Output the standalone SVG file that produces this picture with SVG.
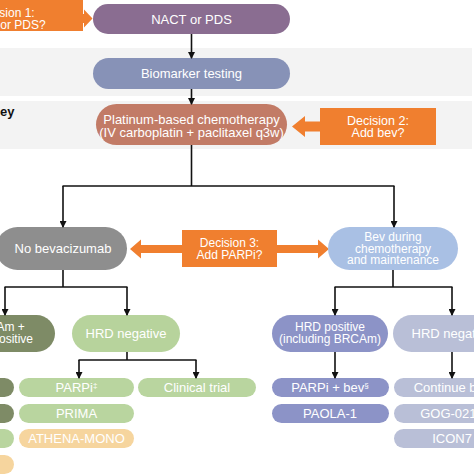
<svg xmlns="http://www.w3.org/2000/svg" width="474" height="474" viewBox="0 0 474 474">
<defs>
<style>
text{font-family:"Liberation Sans",Arial,sans-serif;fill:#fff;text-anchor:middle;font-size:13px}
.sm{font-size:12.5px}
.ml{font-size:12px}
.conn line{stroke:#111;stroke-width:1.6;fill:none}
.or{fill:#f07f2f}
.key{fill:#111;font-weight:bold;text-anchor:start;font-size:13px}
</style>
<marker id="ah" markerUnits="userSpaceOnUse" markerWidth="7" markerHeight="7" refX="6" refY="3.5" orient="auto">
<path d="M0,0 L7,3.5 L0,7 z" fill="#111"/>
</marker>
</defs>
<rect width="474" height="474" fill="#fff"/>
<rect x="0" y="48" width="472" height="48" fill="#f3f3f3"/>
<rect x="0" y="101" width="472" height="48" fill="#f3f3f3"/>
<text class="key" x="0" y="116">ey</text>

<g id="decision1">
<rect class="or" x="-12" y="0" width="95" height="31"/>
<polygon class="or" points="82,14 84,14 84,9.5 92.5,18.5 84,27.5 84,23 82,23"/>
<text class="ml" x="5" y="17">Decision 1:</text>
<text class="ml" x="5" y="28.5">NACT or PDS?</text>
</g>
<g id="nact">
<rect x="93" y="4" width="197" height="30" rx="15" fill="#8a6d91"/>
<text x="191.5" y="23.5">NACT or PDS</text>
</g>
<g id="biomarker">
<rect x="93" y="58" width="197" height="31" rx="15.5" fill="#8792b7"/>
<text x="191.5" y="78">Biomarker testing</text>
</g>
<g id="platinum">
<rect x="96" y="104" width="191" height="41" rx="20.5" fill="#c27b66"/>
<text x="191.5" y="123.5">Platinum-based chemotherapy</text>
<text x="191.5" y="136.5">(IV carboplatin + paclitaxel q3w)</text>
</g>
<g id="decision2">
<rect class="or" x="320" y="108" width="116" height="37"/>
<polygon class="or" points="321,121.5 305,121.5 305,116 292,126.5 305,137 305,131.5 321,131.5"/>
<text class="sm" x="378" y="124.5">Decision 2:</text>
<text class="sm" x="378" y="136.5">Add bev?</text>
</g>
<g id="nobev">
<rect x="-4" y="227" width="131" height="43" rx="21.5" fill="#8e8e8e"/>
<text x="63" y="253">No bevacizumab</text>
</g>
<g id="decision3">
<polygon class="or" points="183,245 141,245 141,239.5 130,249 141,258.5 141,253 183,253"/>
<polygon class="or" points="276,245 318,245 318,239.5 329,249 318,258.5 318,253 276,253"/>
<rect class="or" x="182" y="230" width="95" height="37"/>
<text class="ml" x="229.5" y="246.5">Decision 3:</text>
<text class="ml" x="229.5" y="258.5">Add PARPi?</text>
</g>
<g id="bev">
<rect x="328" y="227" width="130" height="43" rx="21.5" fill="#a9c0e4"/>
<text class="ml" x="393" y="241">Bev during</text>
<text class="ml" x="393" y="252.5">chemotherapy</text>
<text class="ml" x="393" y="264">and maintenance</text>
</g>
<g id="brca">
<rect x="-60" y="315" width="115" height="37" rx="18.5" fill="#7e8b66"/>
<text class="ml" x="-2" y="331">BRCAm +</text>
<text class="ml" x="-2" y="343">HRD positive</text>
</g>
<g id="hrdneg-left">
<rect x="72" y="315" width="108" height="37" rx="18.5" fill="#b7d39c"/>
<text x="126" y="338">HRD negative</text>
</g>
<g id="hrdpos">
<rect x="272" y="315" width="116" height="37" rx="18.5" fill="#8c93c7"/>
<text class="ml" x="330" y="331">HRD positive</text>
<text class="ml" x="330" y="343">(including BRCAm)</text>
</g>
<g id="hrdneg-right">
<rect x="393" y="315" width="132" height="37" rx="18.5" fill="#b9bfd7"/>
<text x="452" y="338">HRD negative</text>
</g>

<g id="brca-rows">
<rect x="-80" y="378" width="94" height="19" rx="9.5" fill="#7e8b66"/>
<rect x="-80" y="404" width="94" height="19" rx="9.5" fill="#7e8b66"/>
<rect x="-80" y="429" width="94" height="19" rx="9.5" fill="#b9d59f"/>
<rect x="-80" y="455" width="94" height="19" rx="9.5" fill="#f6d59e"/>
</g>
<g id="parpi">
<rect x="19" y="378" width="115" height="19" rx="9.5" fill="#b9d59f"/>
<text x="76.5" y="392">PARPi<tspan font-size="8" dy="-4">‡</tspan></text>
</g>
<g id="clinical">
<rect x="138" y="378" width="118" height="19" rx="9.5" fill="#b9d59f"/>
<text x="197" y="392">Clinical trial</text>
</g>
<g id="prima">
<rect x="19" y="404" width="115" height="19" rx="9.5" fill="#b9d59f"/>
<text x="76.5" y="418">PRIMA</text>
</g>
<g id="athena">
<rect x="19" y="429" width="115" height="19" rx="9.5" fill="#f6d59e"/>
<text x="76.5" y="443">ATHENA-MONO</text>
</g>
<g id="parpibev">
<rect x="272" y="378" width="117" height="19" rx="9.5" fill="#8c93c7"/>
<text x="330" y="392">PARPi  + bev<tspan font-size="8" dy="-4">§</tspan></text>
</g>
<g id="paola">
<rect x="272" y="404" width="117" height="19" rx="9.5" fill="#8c93c7"/>
<text x="330" y="418">PAOLA-1</text>
</g>
<g id="continue">
<rect x="394" y="378" width="130" height="19" rx="9.5" fill="#b9bfd7"/>
<text x="452" y="392">Continue bev</text>
</g>
<g id="gog">
<rect x="394" y="404" width="130" height="19" rx="9.5" fill="#b9bfd7"/>
<text x="452" y="418">GOG-0218</text>
</g>
<g id="icon7">
<rect x="394" y="429" width="130" height="19" rx="9.5" fill="#b9bfd7"/>
<text x="452" y="443">ICON7</text>
</g>

<g class="conn" id="connectors">
<line x1="191.5" y1="34" x2="191.5" y2="58" marker-end="url(#ah)"/>
<line x1="191.5" y1="89" x2="191.5" y2="104" marker-end="url(#ah)"/>
<line x1="191.5" y1="145" x2="191.5" y2="186"/>
<line x1="62.5" y1="186" x2="394.5" y2="186"/>
<line x1="63" y1="186" x2="63" y2="227" marker-end="url(#ah)"/>
<line x1="394" y1="186" x2="394" y2="227" marker-end="url(#ah)"/>
<line x1="63" y1="270" x2="63" y2="287"/>
<line x1="4.5" y1="287" x2="127.5" y2="287"/>
<line x1="5" y1="287" x2="5" y2="315" marker-end="url(#ah)"/>
<line x1="127" y1="287" x2="127" y2="315" marker-end="url(#ah)"/>
<line x1="393" y1="270" x2="393" y2="287"/>
<line x1="334.5" y1="287" x2="452.5" y2="287"/>
<line x1="335" y1="287" x2="335" y2="315" marker-end="url(#ah)"/>
<line x1="452" y1="287" x2="452" y2="315" marker-end="url(#ah)"/>
<line x1="127" y1="352" x2="127" y2="360"/>
<line x1="78.5" y1="360" x2="196.5" y2="360"/>
<line x1="79" y1="360" x2="79" y2="378" marker-end="url(#ah)"/>
<line x1="196" y1="360" x2="196" y2="378" marker-end="url(#ah)"/>
<line x1="335" y1="352" x2="335" y2="378" marker-end="url(#ah)"/>
<line x1="452" y1="352" x2="452" y2="378" marker-end="url(#ah)"/>
</g>
</svg>
